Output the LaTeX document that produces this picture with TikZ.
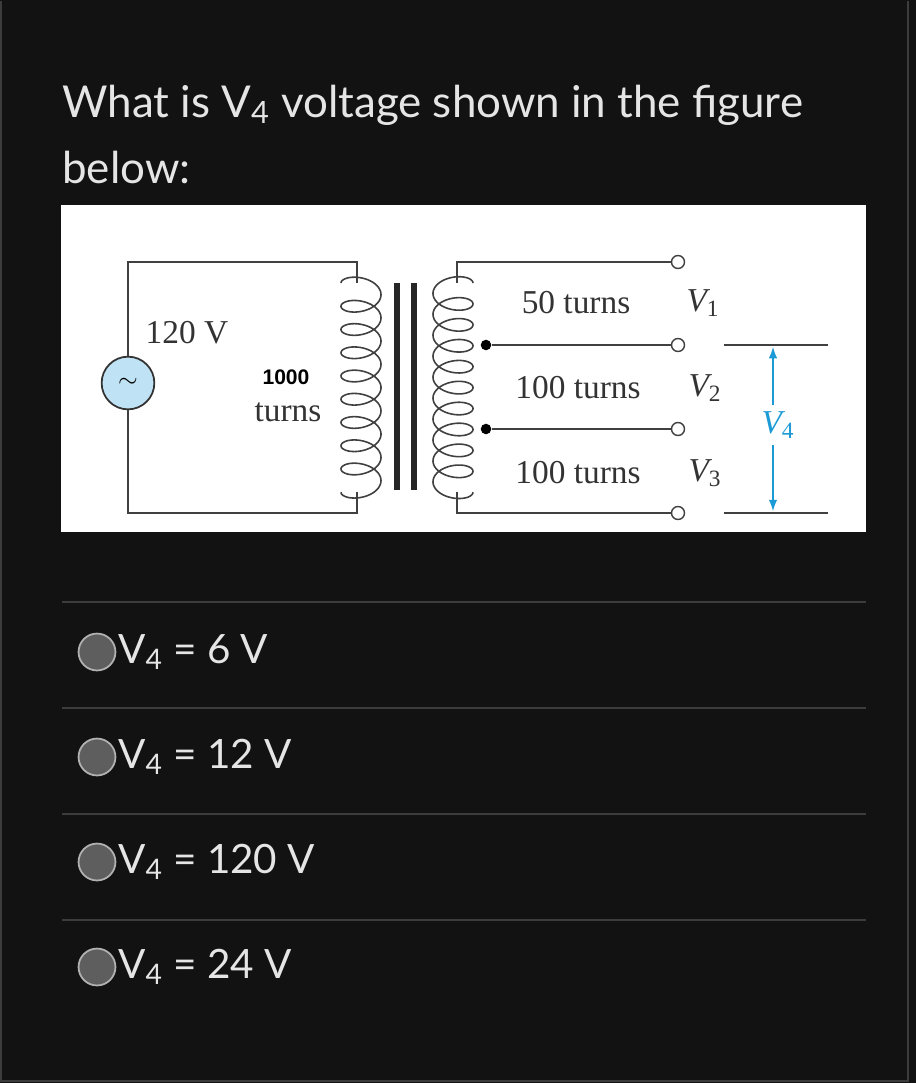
\documentclass[tikz,border=0pt]{standalone}
\usepackage{fontspec}
\setmainfont{Lato}
\newfontfamily\circfont{Liberation Serif}
\newfontfamily\numfont{Liberation Sans}
\usepackage{tikz}
\definecolor{pagebg}{HTML}{121212}
\definecolor{rulegray}{HTML}{3C3C3C}
\definecolor{optgray}{HTML}{5E5E5E}
\definecolor{srcblue}{HTML}{BFE3F4}
\definecolor{vblue}{HTML}{1C9AD6}

\begin{document}
\begin{tikzpicture}[x=0.02cm,y=-0.02cm,
	wire/.style={draw=black!75, line width=0.9pt},
	terminal/.style={circle, draw=black!75, fill=white, line width=0.8pt, inner sep=0pt, minimum size=7.4pt},
	tapdot/.style={circle, fill=black, inner sep=0pt, minimum size=6pt},
	lbl/.style={font=\circfont\fontsize{19}{21}\selectfont, text=black!80},
	vlbl/.style={font=\circfont\itshape\fontsize{19}{21}\selectfont, text=black!80},
	question/.style={anchor=base west, inner sep=0pt, text=white!90!black, font=\fontsize{25}{29}\selectfont},
	optdot/.style={circle, draw=white!70!black, fill=optgray, line width=1pt, inner sep=0pt, minimum size=21pt},
	opttext/.style={anchor=west, inner sep=0pt, text=white!90!black, font=\fontsize{23}{26}\selectfont}]
	\fill[pagebg] (0,0) rectangle (916,1083);
	\draw[rulegray, line width=1pt] (1,1) -- (1,1081) -- (908,1081) -- (908,1);
	% question
	\node[question] (Q1) at (62,117) {What is V\textsubscript{4} voltage shown in the figure};
	\node[question] (Q2) at (62,183) {below:};
	% figure panel
	\fill[white] (61,205) rectangle (866,532);
	% source
	\node[circle, draw=black!80, fill=srcblue, line width=1pt, minimum size=30pt, inner sep=0pt, font=\Large] (S) at (128,383) {$\sim$};
	\coordinate (PT) at (357,262);
	\coordinate (PB) at (357,513);
	\draw[wire] (S.north) |- (PT) -- (357,283);
	\draw[wire] (S.south) |- (PB) -- (357,492);
	\draw[wire, domain=0:56.55, samples=500, smooth, variable=\t]
		plot ({361-20*cos(\t r)}, {283+3.7*\t-11*sin(\t r)});
	% core
	\fill[black!85] (394,283) rectangle (400,490);
	\fill[black!85] (411,283) rectangle (417,490);
	% secondary
	\node[terminal] (T1) at (678,262) {};
	\node[terminal] (T2) at (678,345) {};
	\node[terminal] (T3) at (678,429) {};
	\node[terminal] (T4) at (678,513) {};
	\node[tapdot] (D1) at (486,345) {};
	\node[tapdot] (D2) at (486,429) {};
	\draw[wire] (T1) -- (457,262) -- (457,283);
	\draw[wire] (T4) -- (457,513) -- (457,492);
	\draw[wire, domain=0:62.83, samples=550, smooth, variable=\t]
		plot ({453+20*cos(\t r)}, {283+3.33*\t-11*sin(\t r)});
	\draw[wire] (D1) -- (T2);
	\draw[wire] (D2) -- (T3);
	% labels
	\node[lbl] (L120) at (187,333) {120 V};
	\node[font=\numfont\bfseries\fontsize{12}{14}\selectfont] (N1) at (286,377) {1000};
	\node[lbl] (N2) at (288,412) {turns};
	\node[lbl] (W1) at (576,303) {50 turns};
	\node[lbl] (W2) at (578,388) {100 turns};
	\node[lbl] (W3) at (578,473) {100 turns};
	\node[vlbl] (V1) at (703,303) {V\textsubscript{\upshape 1}};
	\node[vlbl] (V2) at (705,388) {V\textsubscript{\upshape 2}};
	\node[vlbl] (V3) at (705,473) {V\textsubscript{\upshape 3}};
	% V4 span
	\coordinate (R1) at (724,345);
	\coordinate (R2) at (828,345);
	\coordinate (R3) at (724,513);
	\coordinate (R4) at (828,513);
	\draw[wire] (R1) -- (R2);
	\draw[wire] (R3) -- (R4);
	\node[vlbl, text=vblue] (V4) at (778,425) {V\textsubscript{\upshape 4}};
	\draw[->, vblue, line width=1.2pt, >=latex] (V4.north -| 773,0) -- (773,347);
	\draw[->, vblue, line width=1.2pt, >=latex] (V4.south -| 773,0) -- (773,511);
	% options
	\foreach \yy in {602,708,814,920}
		\draw[rulegray, line width=0.8pt] (62,\yy) -- (866,\yy);
	\node[optdot] (O1) at (97,652) {};
	\node[opttext] (A1) at (118,652) {V\textsubscript{4} = 6 V};
	\node[optdot] (O2) at (97,757) {};
	\node[opttext] (A2) at (118,757) {V\textsubscript{4} = 12 V};
	\node[optdot] (O3) at (97,862) {};
	\node[opttext] (A3) at (118,862) {V\textsubscript{4} = 120 V};
	\node[optdot] (O4) at (97,967) {};
	\node[opttext] (A4) at (118,967) {V\textsubscript{4} = 24 V};
\end{tikzpicture}
\end{document}
